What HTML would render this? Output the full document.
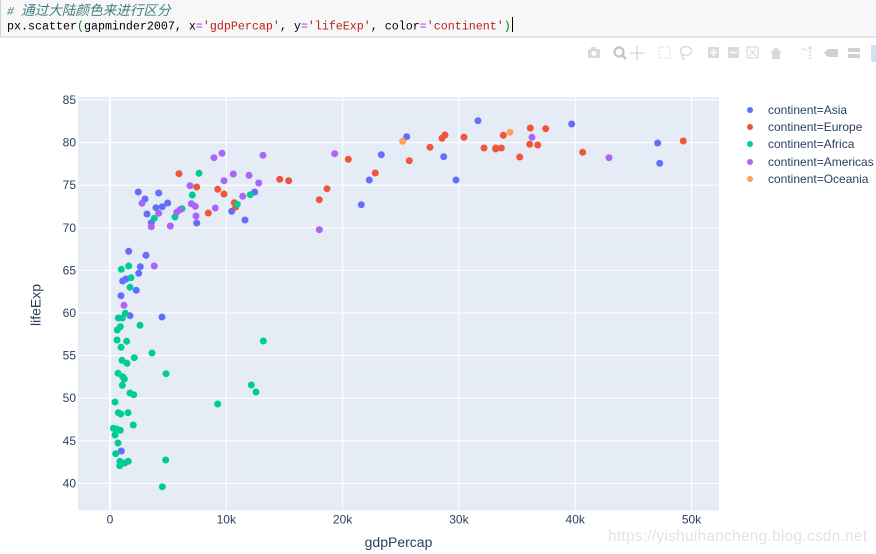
<!DOCTYPE html>
<html><head><meta charset="utf-8"><style>
html,body{margin:0;padding:0;background:#fff;width:876px;height:554px;overflow:hidden;}
svg{display:block;}
</style></head><body>
<svg width="876" height="554" viewBox="0 0 876 554" xmlns="http://www.w3.org/2000/svg">
<!-- code cell -->
<rect x="0.5" y="-2" width="880" height="39" fill="#f7f7f7" stroke="#cfcfcf" stroke-width="1"/>
<text x="7" y="15" font-family="'Liberation Mono','Noto Sans CJK SC',monospace" font-size="11.7" font-style="italic" fill="#408080"># <tspan font-family="'Noto Sans CJK SC','WenQuanYi Zen Hei',sans-serif" font-size="13.6">通过大陆颜色来进行区分</tspan></text>
<text x="7" y="29.5" font-family="'Liberation Mono',monospace" font-size="11.67" fill="#000" xml:space="preserve">px.scatter<tspan fill="#008000">(</tspan>gapminder2007, x<tspan fill="#aa22ff">=</tspan><tspan fill="#ba2121">'gdpPercap'</tspan>, y<tspan fill="#aa22ff">=</tspan><tspan fill="#ba2121">'lifeExp'</tspan>, color<tspan fill="#aa22ff">=</tspan><tspan fill="#ba2121">'continent'</tspan><tspan fill="#008000">)</tspan></text>
<rect x="512" y="17" width="1" height="15" fill="#000"/>

<!-- toolbar -->
<g fill="#dadada" stroke="none">
  <rect x="588" y="49" width="12" height="9" rx="1"/><rect x="591" y="47" width="5" height="3"/><circle cx="594" cy="53.5" r="2.5" fill="#fff"/>
  <circle cx="619" cy="52" r="4.5" fill="none" stroke="#c4c4c4" stroke-width="2.2"/><line x1="622" y1="55" x2="626" y2="59" stroke="#c4c4c4" stroke-width="2.5"/>
  <path d="M637 46 L637 60 M630 53 L644 53" stroke="#dadada" stroke-width="1.6"/>
  <rect x="659" y="47" width="11" height="11" fill="none" stroke="#dadada" stroke-width="1.2" stroke-dasharray="1.5 1.5"/>
  <ellipse cx="686" cy="51" rx="5.5" ry="4.5" fill="none" stroke="#dadada" stroke-width="1.4"/><path d="M682 54 Q681 59 685 59" fill="none" stroke="#dadada" stroke-width="1.4"/>
  <rect x="708" y="47" width="11" height="11"/><path d="M713.5 49 V56 M710 52.5 H717" stroke="#fff" stroke-width="1.6"/>
  <rect x="728" y="47" width="11" height="11"/><path d="M730 52.5 H737" stroke="#fff" stroke-width="1.6"/>
  <rect x="747" y="47" width="11" height="11" fill="none" stroke="#dadada" stroke-width="1.2"/><path d="M749 49 L756 56 M756 49 L749 56" stroke="#dadada" stroke-width="1"/>
  <path d="M770 53 L776 47 L782 53 L780 53 L780 59 L772 59 L772 53 Z"/>
  <circle cx="810" cy="48" r="1.6"/><circle cx="806" cy="50" r="1"/><circle cx="810" cy="52" r="1"/><circle cx="810" cy="55" r="1"/><circle cx="810" cy="58" r="1"/><circle cx="803" cy="49" r="1"/>
  <path d="M824 53 L828 49 L838 49 L838 57 L828 57 Z" fill="#d0d0d0"/>
  <path d="M848 48 L860 48 L860 52 L848 52 Z M848 54 L860 54 L860 58 L848 58 Z" fill="#d0d0d0"/>
  <rect x="871" y="45" width="5" height="17" fill="#cfe0f7"/>
</g>

<!-- plot area -->
<rect x="78" y="97" width="641" height="413.5" fill="#e5ecf6"/>
<g stroke="#fff" stroke-width="1">
  <line x1="78" x2="719" y1="100" y2="100"/>
  <line x1="78" x2="719" y1="142.6" y2="142.6"/>
  <line x1="78" x2="719" y1="185.2" y2="185.2"/>
  <line x1="78" x2="719" y1="227.8" y2="227.8"/>
  <line x1="78" x2="719" y1="270.4" y2="270.4"/>
  <line x1="78" x2="719" y1="313" y2="313"/>
  <line x1="78" x2="719" y1="355.6" y2="355.6"/>
  <line x1="78" x2="719" y1="398.2" y2="398.2"/>
  <line x1="78" x2="719" y1="440.8" y2="440.8"/>
  <line x1="78" x2="719" y1="483.4" y2="483.4"/>
  <line y1="97" y2="510.5" x1="226.3" x2="226.3"/>
  <line y1="97" y2="510.5" x1="342.6" x2="342.6"/>
  <line y1="97" y2="510.5" x1="458.9" x2="458.9"/>
  <line y1="97" y2="510.5" x1="575.2" x2="575.2"/>
  <line y1="97" y2="510.5" x1="691.5" x2="691.5"/>
  <line y1="97" y2="510.5" x1="110" x2="110" stroke-width="2"/>
</g>

<!-- y tick labels -->
<g font-family="'Liberation Sans',Arial,sans-serif" font-size="12" fill="#2a3f5f" text-anchor="end">
  <text x="76" y="104">85</text>
  <text x="76" y="146.6">80</text>
  <text x="76" y="189.2">75</text>
  <text x="76" y="231.8">70</text>
  <text x="76" y="274.4">65</text>
  <text x="76" y="317">60</text>
  <text x="76" y="359.6">55</text>
  <text x="76" y="402.2">50</text>
  <text x="76" y="444.8">45</text>
  <text x="76" y="487.4">40</text>
</g>
<!-- x tick labels -->
<g font-family="'Liberation Sans',Arial,sans-serif" font-size="12" fill="#2a3f5f" text-anchor="middle">
  <text x="110" y="523.5">0</text>
  <text x="226.3" y="523.5">10k</text>
  <text x="342.6" y="523.5">20k</text>
  <text x="458.9" y="523.5">30k</text>
  <text x="575.2" y="523.5">40k</text>
  <text x="691.5" y="523.5">50k</text>
</g>
<text x="398.5" y="547" font-family="'Liberation Sans',Arial,sans-serif" font-size="14" fill="#2a3f5f" text-anchor="middle">gdpPercap</text>
<text transform="translate(40.5,305) rotate(-90)" font-family="'Liberation Sans',Arial,sans-serif" font-size="14" fill="#2a3f5f" text-anchor="middle">lifeExp</text>

<!-- Asia -->
<g fill="#636efa">
<circle cx="138.3" cy="192" r="3.5"/><circle cx="145" cy="199" r="3.5"/><circle cx="158.7" cy="193" r="3.5"/><circle cx="147" cy="214" r="3.5"/><circle cx="156" cy="207.7" r="3.5"/><circle cx="162.3" cy="206.7" r="3.5"/><circle cx="167.7" cy="203" r="3.5"/><circle cx="151.3" cy="222.7" r="3.5"/><circle cx="196.7" cy="223" r="3.5"/><circle cx="231.7" cy="211.3" r="3.5"/><circle cx="245" cy="220" r="3.5"/><circle cx="254.7" cy="192" r="3.5"/><circle cx="128.7" cy="251.3" r="3.5"/><circle cx="146" cy="255.3" r="3.5"/><circle cx="140.3" cy="266.7" r="3.5"/><circle cx="138.7" cy="273.3" r="3.5"/><circle cx="122.7" cy="281" r="3.5"/><circle cx="126" cy="279" r="3.5"/><circle cx="136.3" cy="290.3" r="3.5"/><circle cx="121" cy="295.7" r="3.5"/><circle cx="130" cy="315.7" r="3.5"/><circle cx="162" cy="317" r="3.5"/><circle cx="121.3" cy="451" r="3.5"/><circle cx="361.3" cy="204.7" r="3.5"/><circle cx="369.3" cy="180" r="3.5"/><circle cx="381.3" cy="154.7" r="3.5"/><circle cx="406.7" cy="136.7" r="3.5"/><circle cx="443.7" cy="156.7" r="3.5"/><circle cx="456" cy="180" r="3.5"/><circle cx="478" cy="120.7" r="3.5"/><circle cx="571.7" cy="124" r="3.5"/><circle cx="657.7" cy="143" r="3.5"/><circle cx="659.7" cy="163.3" r="3.5"/>
</g>
<!-- Europe -->
<g fill="#ef553b">
<circle cx="179" cy="173.7" r="3.5"/><circle cx="196.7" cy="187" r="3.5"/><circle cx="217.7" cy="189.3" r="3.5"/><circle cx="224" cy="194" r="3.5"/><circle cx="234.3" cy="202.7" r="3.5"/><circle cx="235.7" cy="207" r="3.5"/><circle cx="208.3" cy="213" r="3.5"/><circle cx="279.7" cy="179.3" r="3.5"/><circle cx="288.7" cy="180.7" r="3.5"/><circle cx="348.3" cy="159.3" r="3.5"/><circle cx="327" cy="188.7" r="3.5"/><circle cx="319.3" cy="199.7" r="3.5"/><circle cx="375.3" cy="173" r="3.5"/><circle cx="409.3" cy="160.7" r="3.5"/><circle cx="430" cy="147.3" r="3.5"/><circle cx="442" cy="138.3" r="3.5"/><circle cx="445" cy="135" r="3.5"/><circle cx="464" cy="137.3" r="3.5"/><circle cx="484" cy="148" r="3.5"/><circle cx="495.7" cy="148" r="3.5"/><circle cx="495.7" cy="149" r="3.5"/><circle cx="501.3" cy="148" r="3.5"/><circle cx="503.3" cy="135.3" r="3.5"/><circle cx="530.3" cy="128" r="3.5"/><circle cx="529.7" cy="144.3" r="3.5"/><circle cx="537.7" cy="145" r="3.5"/><circle cx="519.7" cy="157" r="3.5"/><circle cx="545.7" cy="128.7" r="3.5"/><circle cx="582.7" cy="152.3" r="3.5"/><circle cx="683.3" cy="141" r="3.5"/>
</g>
<!-- Africa -->
<g fill="#00cc96">
<circle cx="199" cy="173.3" r="3.5"/><circle cx="192.3" cy="195" r="3.5"/><circle cx="250.3" cy="194.7" r="3.5"/><circle cx="237.3" cy="204.3" r="3.5"/><circle cx="154.3" cy="218.3" r="3.5"/><circle cx="175" cy="217" r="3.5"/><circle cx="182" cy="208.7" r="3.5"/><circle cx="128.7" cy="266" r="3.5"/><circle cx="121.3" cy="269.3" r="3.5"/><circle cx="131" cy="277.7" r="3.5"/><circle cx="130" cy="287.3" r="3.5"/>
<circle cx="125.3" cy="313.3" r="3.5"/><circle cx="118.3" cy="318" r="3.5"/><circle cx="122.3" cy="318" r="3.5"/><circle cx="140" cy="325.3" r="3.5"/><circle cx="120.3" cy="326.7" r="3.5"/><circle cx="117.3" cy="330" r="3.5"/><circle cx="117" cy="340" r="3.5"/><circle cx="126.7" cy="341.3" r="3.5"/><circle cx="121" cy="347.3" r="3.5"/><circle cx="152" cy="353" r="3.5"/><circle cx="263.3" cy="341" r="3.5"/><circle cx="134.3" cy="357.7" r="3.5"/><circle cx="122" cy="360.3" r="3.5"/><circle cx="127" cy="363.3" r="3.5"/><circle cx="118" cy="373.3" r="3.5"/><circle cx="166" cy="373.7" r="3.5"/><circle cx="122.7" cy="376.7" r="3.5"/><circle cx="124.3" cy="379" r="3.5"/><circle cx="122.3" cy="385.3" r="3.5"/><circle cx="251.3" cy="385" r="3.5"/><circle cx="256" cy="392" r="3.5"/><circle cx="130" cy="393" r="3.5"/><circle cx="133.7" cy="394.7" r="3.5"/><circle cx="115" cy="402" r="3.5"/><circle cx="217.7" cy="404" r="3.5"/><circle cx="118.3" cy="412.7" r="3.5"/><circle cx="128" cy="412.7" r="3.5"/><circle cx="120.7" cy="414" r="3.5"/><circle cx="133.3" cy="425" r="3.5"/><circle cx="113.3" cy="428.3" r="3.5"/><circle cx="116.7" cy="429" r="3.5"/><circle cx="120.3" cy="430.3" r="3.5"/><circle cx="115" cy="435" r="3.5"/><circle cx="118" cy="443" r="3.5"/><circle cx="115.7" cy="453.7" r="3.5"/><circle cx="120" cy="461.3" r="3.5"/><circle cx="128.3" cy="461.3" r="3.5"/><circle cx="124.7" cy="463" r="3.5"/><circle cx="119.7" cy="465.7" r="3.5"/><circle cx="165.7" cy="460" r="3.5"/><circle cx="162.3" cy="486.7" r="3.5"/>
</g>
<!-- Americas -->
<g fill="#ab63fa">
<circle cx="214" cy="157.7" r="3.5"/><circle cx="222" cy="153.3" r="3.5"/><circle cx="263" cy="155.3" r="3.5"/><circle cx="190" cy="185.7" r="3.5"/><circle cx="224" cy="180.7" r="3.5"/><circle cx="233.3" cy="174" r="3.5"/><circle cx="249" cy="175.3" r="3.5"/><circle cx="258.7" cy="183" r="3.5"/><circle cx="242.7" cy="196.3" r="3.5"/><circle cx="215.3" cy="208" r="3.5"/><circle cx="191.3" cy="203.7" r="3.5"/><circle cx="195.3" cy="206.3" r="3.5"/><circle cx="196" cy="216" r="3.5"/><circle cx="142" cy="203.3" r="3.5"/><circle cx="158.7" cy="213.3" r="3.5"/><circle cx="151.3" cy="226.7" r="3.5"/><circle cx="170.3" cy="226" r="3.5"/><circle cx="176.7" cy="212.3" r="3.5"/><circle cx="180" cy="209.7" r="3.5"/><circle cx="154.3" cy="266" r="3.5"/><circle cx="124" cy="305.3" r="3.5"/><circle cx="334.7" cy="153.7" r="3.5"/><circle cx="319.3" cy="229.7" r="3.5"/><circle cx="532" cy="137.3" r="3.5"/><circle cx="609" cy="157.7" r="3.5"/>
</g>
<!-- Oceania -->
<g fill="#ffa15a">
<circle cx="402.7" cy="141.3" r="3.5"/><circle cx="510" cy="132.3" r="3.5"/>
</g>

<!-- legend -->
<g font-family="'Liberation Sans',Arial,sans-serif" font-size="12" fill="#2a3f5f">
  <circle cx="750" cy="110" r="3" fill="#636efa"/><text x="768" y="114">continent=Asia</text>
  <circle cx="750" cy="127" r="3" fill="#ef553b"/><text x="768" y="131">continent=Europe</text>
  <circle cx="750" cy="144" r="3" fill="#00cc96"/><text x="768" y="148">continent=Africa</text>
  <circle cx="750" cy="162" r="3" fill="#ab63fa"/><text x="768" y="166">continent=Americas</text>
  <circle cx="750" cy="179" r="3" fill="#ffa15a"/><text x="768" y="183">continent=Oceania</text>
</g>

<!-- watermark -->
<text x="608" y="541" font-family="'Liberation Sans',Arial,sans-serif" font-size="15.5" fill="#e3e3e3" textLength="259">https://yishuihancheng.blog.csdn.net</text>
</svg>
</body></html>
